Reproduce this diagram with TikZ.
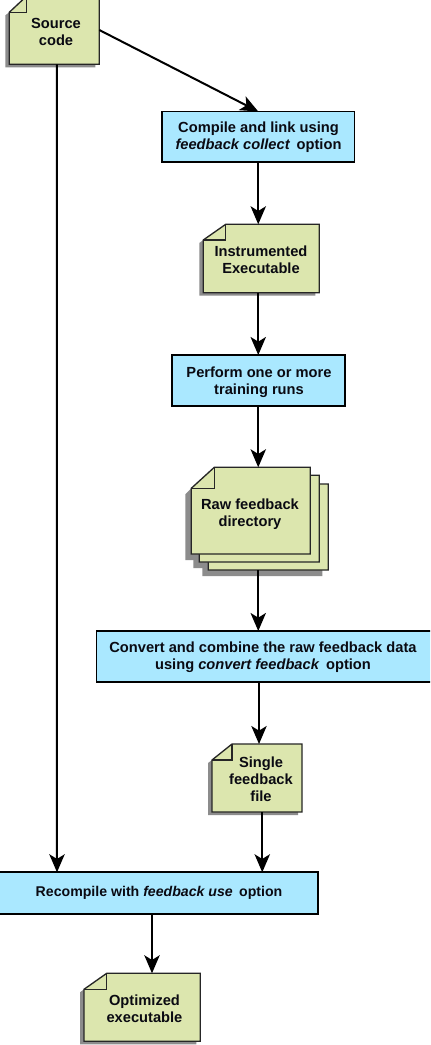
\documentclass[tikz,border=0pt]{standalone}
\usepackage{fontspec}
\setmainfont{Liberation Sans}
\usetikzlibrary{arrows.meta,shapes.geometric}
\definecolor{procblue}{HTML}{AAE8FF}
\definecolor{docgreen}{HTML}{DCE6AE}
\definecolor{shadowgrey}{HTML}{8C8C8C}
\definecolor{inkdark}{HTML}{0A0A12}
\tikzset{
  boxshape/.style={rectangle,inner sep=0pt,outer sep=0pt},
  procbox/.style={draw=black,line width=1.4pt,fill=procblue},
  docface/.style={draw=black!85,line width=1pt,fill=docgreen,line join=miter},
  foldline/.style={draw=black!85,line width=0.8pt},
  docshadow/.style={fill=shadowgrey,draw=none},
  labeltext/.style={font=\fontsize{11pt}{12.75pt}\selectfont\bfseries,text=inkdark,align=center,inner sep=0pt},
  flow/.style={draw=black,line width=1.5pt,-{Stealth[length=13.5pt,width=11.5pt,inset=3.5pt]}},
}
% #1 name, #2 x1, #3 y1, #4 x2, #5 y2
\newcommand{\ProcBox}[5]{%
  \path[procbox] (#2,#3) rectangle (#4,#5);
  \node[boxshape,minimum width={(#4-#2)*0.75pt},minimum height={(#5-#3)*0.75pt}] (#1) at ({(#2+#4)/2},{(#3+#5)/2}) {};
}
% #1 x1, #2 y1, #3 x2, #4 y2, #5 fold h, #6 shadow dx, #7 shadow dy
\newcommand{\SheetShadow}[7]{%
  \path[docshadow] ({#1-#6},{#2+#5+#7}) -- ({#1-#6},{#4+#7}) -- ({#3-#6},{#4+#7}) -- ({#3-#6},{#4}) -- (#1,#4) -- (#1,{#2+#5}) -- cycle;
}
% #1 x1, #2 y1, #3 x2, #4 y2, #5 fold w, #6 fold h
\newcommand{\SheetFace}[6]{%
  \path[docface] ({#1+#5},#2) -- (#3,#2) -- (#3,#4) -- (#1,#4) -- (#1,{#2+#6}) -- cycle;
  \path[foldline] (#1,{#2+#6}) -- ({#1+#5},{#2+#6}) -- ({#1+#5},#2);
}
\newcommand{\DocSheet}[8]{%
  \SheetShadow{#1}{#2}{#3}{#4}{#6}{#7}{#8}
  \SheetFace{#1}{#2}{#3}{#4}{#5}{#6}
}
\newcommand{\BoxAnchor}[5]{%
  \node[boxshape,minimum width={(#4-#2)*0.75pt},minimum height={(#5-#3)*0.75pt}] (#1) at ({(#2+#4)/2},{(#3+#5)/2}) {};
}
\begin{document}
\begin{tikzpicture}[x=0.75pt,y=-0.75pt]
\clip (0,0) rectangle (430,1045);
\fill[white] (0,0) rectangle (430,1045);

\DocSheet{9.3}{-4}{99.3}{64.3}{17.4}{16.3}{4}{3}
\BoxAnchor{src}{9.3}{-4}{99.3}{64.3}
\node[labeltext] (srct) at (56,32) {Source\\code};

\ProcBox{cmp}{162}{111.5}{354.5}{162}
\node[labeltext] (cmpt) at (258.5,137) {Compile and link using\\\textit{feedback collect}\, option};

\DocSheet{203.3}{224.3}{319.3}{292.7}{22.4}{15.7}{4}{3}
\BoxAnchor{ins}{203.3}{224.3}{319.3}{292.7}
\node[labeltext] (inst) at (261,260) {Instrumented\\Executable};

\ProcBox{run}{172}{355}{345}{406}
\node[labeltext] (runt) at (259,382) {Perform one or more\\training runs};

\SheetShadow{208.3}{484}{328.3}{570}{21}{6}{6}
\SheetShadow{199.3}{475.3}{319.3}{562}{21}{6}{6}
\SheetShadow{191.3}{467.3}{310.3}{554}{21}{6}{6}
\SheetFace{208.3}{484}{328.3}{570}{23}{21}
\SheetFace{199.3}{475.3}{319.3}{562}{23}{21}
\SheetFace{191.3}{467.3}{310.3}{554}{23}{21}
\BoxAnchor{raw}{191.3}{467.3}{328.3}{570}
\node[labeltext] (rawt) at (250,514.5) {Raw feedback\\directory};

\ProcBox{cnv}{96.5}{631}{434}{682}
\node[labeltext] (cnvt) at (263,657) {Convert and combine the raw feedback data\\using \textit{convert feedback}\, option};

\DocSheet{212}{744}{302}{812}{20}{16}{4}{3}
\BoxAnchor{sgl}{212}{744}{302}{812}
\node[labeltext] (sglt) at (261,779.5) {Single\\feedback\\file};

\ProcBox{rec}{-4}{872.3}{318.3}{914}
\node[labeltext,font=\fontsize{10.6pt}{12.75pt}\selectfont\bfseries] (rect) at (159,892.5) {Recompile with \textit{feedback use}\, option};

\DocSheet{84}{973.3}{200.3}{1041.3}{22.7}{16}{4}{3}
\BoxAnchor{opt}{84}{973.3}{200.3}{1041.3}
\node[labeltext] (optt) at (144.5,1009) {Optimized\\executable};

% connectors
\path[flow] (src.east |- 0,30) -- (cmp.north);
\path[flow] ([xshift={2.6*0.75pt}]src.south) -- ([xshift={(57-157.15)*0.75pt}]rec.north);
\path[flow] (cmp.south) -- (cmp.south |- ins.north);
\path[flow] (cmp.south |- ins.south) -- (cmp.south |- run.north);
\path[flow] (cmp.south |- run.south) -- (cmp.south |- raw.north);
\path[flow] (cmp.south |- raw.south) -- (cmp.south |- cnv.north);
\path[flow] ([xshift={0.75*0.75pt}]cmp.south |- cnv.south) -- ([xshift={0.75*0.75pt}]cmp.south |- sgl.north);
\path[flow] ([xshift={4*0.75pt}]cmp.south |- sgl.south) -- ([xshift={4*0.75pt}]cmp.south |- rec.north);
\path[flow] ([xshift={(152-157.15)*0.75pt}]rec.south) -- ([xshift={(152-157.15)*0.75pt}]rec.south |- opt.north);
\end{tikzpicture}
\end{document}
